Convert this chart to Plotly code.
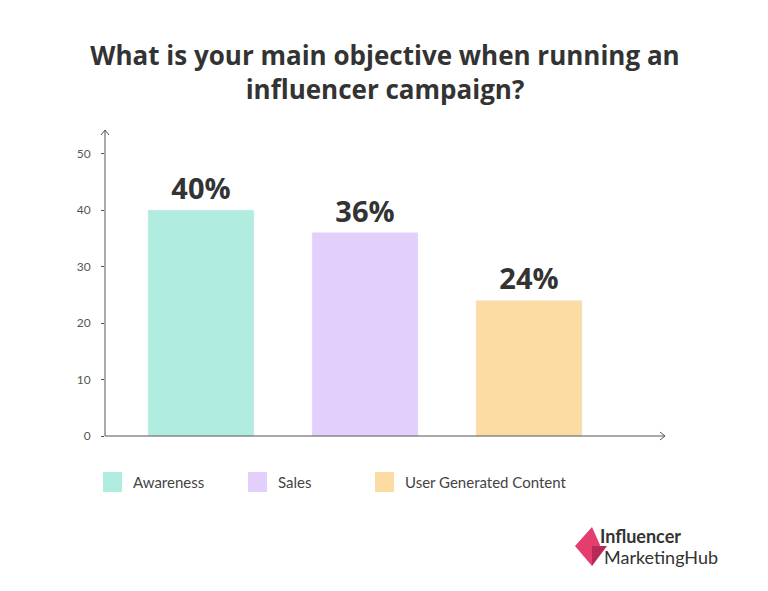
import plotly.graph_objects as go

categories = ["Awareness", "Sales", "User Generated Content"]
values = [40, 36, 24]
colors = ["#b0ecdf", "#e2cffc", "#fddca3"]
tick_vals = [0, 10, 20, 30, 40, 50]

W, H = 768, 591
OFF = 8  # page body margin
L, R, T, B = 105, 665, 130, 436  # plot area pixels (in screenshot)
def px(x): return (x - L) / (R - L)
def py(y): return (B - y) / (B - T)

fig = go.Figure()
fig.add_trace(go.Bar(
    x=[0, 1, 2], y=values, marker_color=colors, width=106/164,
    text=[f"{v}%" for v in values], textposition="outside",
    textfont=dict(family="Open Sans", size=29, color="#333333", weight="bold"),
    cliponaxis=False, showlegend=False, hoverinfo="skip"))

shapes = []
line = dict(color="#555555", width=1)
shapes.append(dict(type="line", xref="paper", yref="paper", x0=0, y0=0, x1=0, y1=py(130), line=line))
shapes.append(dict(type="line", xref="paper", yref="paper", x0=0, y0=0, x1=1, y1=0, line=line))
shapes.append(dict(type="path", xref="paper", yref="paper",
    path=f"M {px(101)} {py(135)} L {px(105)} {py(130)} L {px(109)} {py(135)}", line=line))
shapes.append(dict(type="path", xref="paper", yref="paper",
    path=f"M {px(660)} {py(432)} L {px(665)} {py(436)} L {px(660)} {py(440)}", line=line))

annotations = []
leg_x = [103, 248, 375]
for i, (c, col) in enumerate(zip(categories, colors)):
    shapes.append(dict(type="rect", xref="paper", yref="paper", x0=px(leg_x[i]), x1=px(leg_x[i]+19),
                       y0=py(492), y1=py(472), fillcolor=col, line=dict(width=0)))
    annotations.append(dict(xref="paper", yref="paper", x=px(leg_x[i]+28), y=py(482), text=c,
                            showarrow=False, xanchor="left", yanchor="middle",
                            font=dict(family="Lato", size=15, color="#444444")))

shapes.append(dict(type="path", xref="paper", yref="paper",
    path=f"M {px(575)} {py(546)} L {px(592)} {py(527)} L {px(600)} {py(545)} L {px(592)} {py(566)} Z",
    fillcolor="#e33e6e", line=dict(width=0)))
shapes.append(dict(type="path", xref="paper", yref="paper",
    path=f"M {px(592)} {py(546)} L {px(607)} {py(546)} L {px(592)} {py(566)} Z",
    fillcolor="#b82a56", line=dict(width=0)))
annotations.append(dict(xref="paper", yref="paper", x=px(598), y=py(536), text="<b>Influencer</b>",
    showarrow=False, xanchor="left", yanchor="middle", font=dict(family="Lato", size=18, color="#333333")))
annotations.append(dict(xref="paper", yref="paper", x=px(602), y=py(557), text="MarketingHub",
    showarrow=False, xanchor="left", yanchor="middle", font=dict(family="Lato", size=18, color="#333333")))

fig.update_layout(
    width=W, height=H, autosize=False,
    margin=dict(l=L - OFF, r=W - R + OFF, t=T - OFF, b=H - B + OFF),
    paper_bgcolor="white", plot_bgcolor="white",
    title=dict(text="What is your main objective when running an<br>influencer campaign?",
               x=0.5, xref="paper", xanchor="center", y=1 - (65 - OFF)/H, yanchor="middle",
               font=dict(family="Open Sans", size=26, color="#333333", weight="bold")),
    xaxis=dict(range=[-96/164, 464/164], showticklabels=False, showgrid=False, zeroline=False,
               showline=False, ticks=""),
    yaxis=dict(range=[0, 306/5.65], tickvals=tick_vals, showgrid=False, zeroline=False,
               showline=False, ticks="outside", ticklen=3, tickcolor="#555555",
               ticklabelstandoff=8, tickfont=dict(family="Lato", size=12, color="#555555")),
    shapes=shapes, annotations=annotations,
)
fig.write_html("out.html")
